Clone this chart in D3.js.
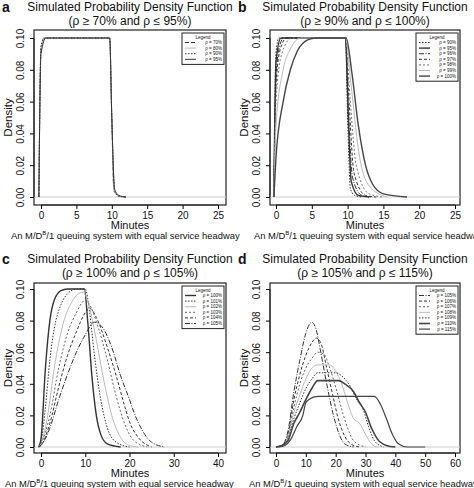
<!DOCTYPE html><html><head><meta charset="utf-8">
<script src="https://cdn.jsdelivr.net/npm/d3@7/dist/d3.min.js"></script>
<style>body{margin:0;background:#fff}text{font-family:"Liberation Sans",Arial,sans-serif;fill:#111}</style></head><body>
<svg id="c" width="474" height="488"></svg>
<script>
// ---- data ----
const xTicksA=[0,5,10,15,20,25], xTicksC=[0,10,20,30,40], xTicksD=[0,10,20,30,40,50,60];
const yTicks=[0,0.02,0.04,0.06,0.08,0.10];
const labelsA=["ρ = 70%","ρ = 80%","ρ = 90%","ρ = 95%"];
const labelsB=["ρ = 90%","ρ = 95%","ρ = 96%","ρ = 97%","ρ = 98%","ρ = 99%","ρ = 100%"];
const labelsC=["ρ = 100%","ρ = 101%","ρ = 102%","ρ = 103%","ρ = 104%","ρ = 105%"];
const labelsD=["ρ = 105%","ρ = 106%","ρ = 107%","ρ = 108%","ρ = 109%","ρ = 110%","ρ = 115%"];
const seriesA=[
 [[-0.3,0],[0,0.093],[0.4,0.1],[9.7,0.1],[10,0.05],[10.3,0.004],[11,0.0005],[12,0]],
 [[-0.3,0],[0,0.094],[0.5,0.1],[9.7,0.1],[10,0.05],[10.3,0.004],[11,0.0005],[12,0]],
 [[-0.3,0],[0,0.095],[0.6,0.1],[9.7,0.1],[10,0.05],[10.4,0.004],[11,0.0005],[12,0]],
 [[-0.3,0],[0,0.09],[0.7,0.1],[9.7,0.1],[10,0.05],[10.4,0.005],[11,0.001],[12,0]]];
const seriesB=[
 [[-0.3,0],[0,0.09],[0.4,0.1],[9.7,0.1],[10,0.05],[10.4,0.005],[11,0.001],[12,0]],
 [[-0.3,0],[0,0.085],[0.7,0.1],[9.7,0.1],[10.1,0.05],[10.5,0.01],[11.5,0.001],[13,0]],
 [[-0.3,0],[0,0.075],[0.5,0.095],[1.1,0.1],[9.7,0.1],[10.1,0.055],[10.7,0.012],[12,0.001],[13.5,0]],
 [[-0.3,0],[0,0.07],[0.6,0.093],[1.5,0.1],[9.7,0.1],[10.2,0.06],[10.9,0.015],[12.5,0.001],[14,0]],
 [[-0.3,0],[0,0.06],[0.8,0.09],[2.2,0.1],[9.7,0.1],[10.3,0.065],[11.2,0.02],[13,0.002],[15,0]],
 [[-0.3,0],[0,0.045],[1,0.08],[2,0.093],[3.5,0.1],[9.7,0.1],[10.5,0.07],[11.5,0.03],[13,0.007],[15.5,0]],
 [[-0.3,0],[0,0.025],[1,0.06],[2,0.08],[3,0.092],[4.5,0.099],[5.5,0.1],[9.8,0.1],[10.6,0.078],[11.5,0.045],[12.5,0.02],[13.5,0.008],[15,0.002],[18.3,0]]];
const seriesC=[
 [[-0.5,0],[0,0.005],[1,0.05],[2,0.08],[3,0.093],[4.5,0.099],[6,0.1],[9.8,0.1],[10.6,0.078],[11.5,0.045],[12.5,0.02],[13.5,0.008],[15,0.002],[18,0]],
 [[-0.5,0],[0,0.003],[1,0.025],[2,0.055],[3,0.075],[4.5,0.09],[6,0.097],[8,0.1],[10,0.1],[11,0.085],[12,0.06],[13.5,0.03],[15,0.012],[17,0.003],[20,0]],
 [[-0.5,0],[0,0.002],[1.5,0.02],[3,0.05],[5,0.078],[7,0.092],[9.5,0.098],[10.5,0.093],[12,0.075],[14,0.045],[16,0.02],[18,0.006],[20,0.001],[22,0]],
 [[-0.5,0],[0,0.002],[2,0.02],[4,0.05],[6,0.072],[8,0.085],[10,0.093],[11,0.09],[13,0.075],[15,0.055],[17,0.032],[19,0.014],[21,0.004],[24,0]],
 [[-0.5,0],[0,0.001],[2,0.015],[4,0.038],[6,0.058],[8,0.073],[10,0.085],[11,0.088],[12.5,0.082],[15,0.063],[17,0.045],[19,0.025],[20,0.016],[22,0.006],[25,0]],
 [[-0.5,0],[0,0.001],[2,0.012],[4,0.03],[6,0.046],[8,0.06],[10,0.071],[12,0.079],[13.5,0.077],[16,0.063],[18,0.045],[20,0.03],[21,0.022],[23,0.01],[25,0.003],[28,0]]];
const seriesD=[
 [[0,0],[2,0.001],[4,0.01],[6,0.035],[8,0.055],[10,0.072],[12,0.079],[13.5,0.074],[15,0.06],[17,0.04],[19,0.022],[21,0.009],[23,0.002],[26,0]],
 [[0,0],[2,0.001],[4,0.008],[6,0.03],[8,0.046],[10,0.058],[12,0.066],[13.5,0.069],[15,0.066],[17,0.05],[19,0.033],[21,0.017],[23,0.007],[25,0.002],[28,0]],
 [[0,0],[2,0.001],[4,0.007],[6,0.025],[8,0.04],[10,0.05],[12,0.056],[14,0.06],[16,0.059],[18,0.05],[20,0.038],[22,0.024],[24,0.012],[26,0.004],[30,0]],
 [[0,0],[2,0.001],[4,0.006],[6,0.022],[8,0.033],[10,0.043],[12,0.05],[14,0.052],[18,0.052],[20,0.048],[22,0.04],[24,0.028],[26,0.018],[28,0.015],[30,0.008],[32,0.002],[34,0]],
 [[0,0],[2,0.001],[4,0.005],[6,0.018],[8,0.028],[10,0.037],[12,0.043],[14,0.047],[20,0.047],[22,0.045],[25,0.038],[27,0.03],[29,0.025],[31,0.013],[33,0.004],[36,0]],
 [[0,0],[2,0.001],[4,0.004],[6,0.015],[8,0.022],[10,0.03],[12,0.037],[14,0.042],[21,0.042],[23,0.04],[26,0.035],[28,0.028],[30,0.022],[32,0.012],[34,0.005],[37,0.001],[40,0]],
 [[1,0],[3,0.001],[5,0.005],[7,0.013],[9,0.02],[10,0.028],[11,0.03],[14,0.032],[33,0.032],[35,0.027],[37,0.018],[39,0.008],[41,0.002],[44,0],[50,0]]];
// ---- styles ----
const dk="#333", lt="#bbb";
const stA=[{c:dk,d:"4,2"},{c:lt,d:null},{c:dk,d:"1.5,1.5"},{c:dk,d:null}];
const stB=[{c:dk,d:"1.5,1.5"},{c:dk,d:null,w:1.4},{c:dk,d:"5,1.5,1,1.5"},{c:dk,d:"3,2"},{c:"#777",d:"2,2"},{c:lt,d:null},{c:"#444",d:null,w:1.4}];
const stC=[{c:dk,d:null,w:1.4},{c:dk,d:"1.5,1.5"},{c:lt,d:null},{c:"#666",d:"2,2"},{c:dk,d:"3,2"},{c:dk,d:"5,1.5,1,1.5"}];
const stD=[{c:dk,d:"5,1.5,1,1.5"},{c:dk,d:"3,2"},{c:"#666",d:"2,2"},{c:lt,d:null},{c:dk,d:"1.5,1.5"},{c:"#444",d:null,w:1.6},{c:"#444",d:null,w:1.2}];

const svg=d3.select("#c");
function panel(o){
 const g=svg.append("g");
 const x=d3.scaleLinear().domain(o.xd).range(o.xr);
 const y=d3.scaleLinear().domain([0,0.1]).range(o.yr);
 g.append("rect").attr("x",o.box[0]).attr("y",o.box[1]).attr("width",o.box[2]-o.box[0]).attr("height",o.box[3]-o.box[1]).attr("fill","none").attr("stroke","#222").attr("stroke-width",1.2);
 g.append("line").attr("x1",o.box[0]).attr("x2",o.box[2]).attr("y1",y(0)).attr("y2",y(0)).attr("stroke","#ccc");
 const xa=g.append("g").attr("transform",`translate(0,${o.box[3]})`).call(d3.axisBottom(x).tickValues(o.xt).tickSize(4).tickFormat(d3.format("d")));
 const ya=g.append("g").attr("transform",`translate(${o.box[0]},0)`).call(d3.axisLeft(y).tickValues(yTicks).tickSize(4).tickFormat(d3.format(".2f")));
 [xa,ya].forEach(a=>{a.select(".domain").remove();a.selectAll("text").style("font-size","10px").attr("fill","#222");});
 xa.append("line").attr("x1",x(o.xt[0])).attr("x2",x(o.xt[o.xt.length-1])).attr("stroke","#222");
 ya.append("line").attr("y1",y(0)).attr("y2",y(0.1)).attr("stroke","#222");
 ya.selectAll(".tick text").attr("transform","rotate(-90)").attr("x",0).attr("y",-10).attr("dy",0).attr("text-anchor","middle");
 const line=d3.line().x(d=>x(d[0])).y(d=>y(d[1])).curve(d3.curveMonotoneX);
 o.series.forEach((s,i)=>{const st=o.st[i];
  g.append("path").attr("d",line(s)).attr("fill","none").attr("stroke",st.c).attr("stroke-width",st.w||1).attr("stroke-dasharray",st.d);});
 const lx=o.box[2]-44, ly=o.box[1]+3, lh=9+o.labels.length*5.6;
 g.append("rect").attr("x",lx).attr("y",ly).attr("width",42).attr("height",lh).attr("fill","#fff").attr("stroke","#222");
 g.append("text").attr("x",lx+21).attr("y",ly+6).attr("text-anchor","middle").style("font-size","4.5px").text("Legend");
 o.labels.forEach((l,i)=>{const yy=ly+11+i*5.6;const st=o.st[i];
  g.append("line").attr("x1",lx+3).attr("x2",lx+14).attr("y1",yy-1.5).attr("y2",yy-1.5).attr("stroke",st.c).attr("stroke-width",st.w||1).attr("stroke-dasharray",st.d);
  g.append("text").attr("x",lx+40).attr("y",yy).attr("text-anchor","end").style("font-size","4.5px").text(l);});
 const cx=(o.box[0]+o.box[2])/2;
 g.append("text").attr("x",cx).attr("y",o.t1).attr("text-anchor","middle").style("font-size","12px").text("Simulated Probability Density Function");
 g.append("text").attr("x",cx).attr("y",o.t1+14).attr("text-anchor","middle").style("font-size","12px").text(o.sub);
 g.append("text").attr("x",o.lx).attr("y",o.t1+1).style("font-size","14px").style("font-weight","bold").text(o.letter);
 g.append("text").attr("x",cx).attr("y",o.box[3]+24).attr("text-anchor","middle").style("font-size","11px").text("Minutes");
 const cap=g.append("text").attr("x",o.capx).attr("y",o.box[3]+34).style("font-size","9.4px");
 cap.append("tspan").text("An M/D");cap.append("tspan").attr("dy",-4).style("font-size","6px").text("B");cap.append("tspan").attr("dy",4).text("/1 queuing system with equal service headway");
 g.append("text").attr("transform",`translate(${o.box[0]-22},${(o.box[1]+o.box[3])/2}) rotate(-90)`).attr("text-anchor","middle").style("font-size","11.5px").text("Density");
}
panel({letter:"a",lx:2,t1:11,capx:11,sub:"(ρ ≥ 70% and ρ ≤ 95%)",box:[34,30,226,205],xd:[0,25],xr:[41,218],yr:[197,38],xt:xTicksA,series:seriesA,st:stA,labels:labelsA});
panel({letter:"b",lx:238,t1:11,capx:254,sub:"(ρ ≥ 90% and ρ ≤ 100%)",box:[270,30,460,205],xd:[0,25],xr:[276,455],yr:[197,38],xt:xTicksA,series:seriesB,st:stB,labels:labelsB});
panel({letter:"c",lx:2,t1:263,capx:5,sub:"(ρ ≥ 100% and ρ ≤ 105%)",box:[34,283,226,453],xd:[0,40],xr:[41,218],yr:[447,289],xt:xTicksC,series:seriesC,st:stC,labels:labelsC});
panel({letter:"d",lx:238,t1:263,capx:249,sub:"(ρ ≥ 105% and ρ ≤ 115%)",box:[270,283,460,453],xd:[0,60],xr:[276,455],yr:[447,289],xt:xTicksD,series:seriesD,st:stD,labels:labelsD});
</script></body></html>
